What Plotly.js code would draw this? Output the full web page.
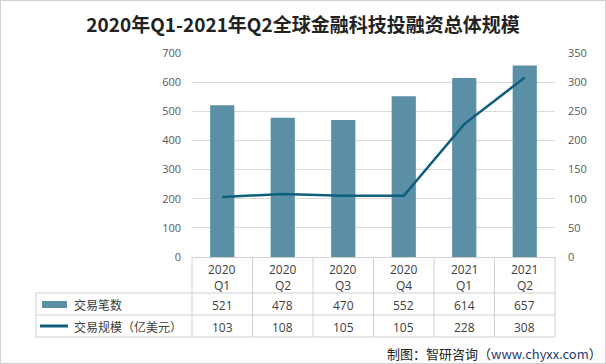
<!DOCTYPE html>
<html><head><meta charset="utf-8">
<script src="https://cdn.plot.ly/plotly-3.0.1.min.js"></script>
<style>body{margin:0;padding:0;background:#fff}#c{width:604px;height:362px;border:1px solid #d0d0d0}</style>
</head><body><div id="c"></div>
<script>
const categories = ["2020 Q1","2020 Q2","2020 Q3","2020 Q4","2021 Q1","2021 Q2"];
const yearLabels = ["2020","2020","2020","2020","2021","2021"];
const quarterLabels = ["Q1","Q2","Q3","Q4","Q1","Q2"];
const dealCount = [521,478,470,552,614,657];
const dealAmount = [103,108,105,105,228,308];
const seriesNames = ["交易笔数","交易规模（亿美元）"];

const W=604,H=362,L=191,R=554,T=52,B=256;
const px=x=>(x-L)/(R-L), py=y=>(B-y)/(B-T);
const fontF='"Noto Sans CJK SC","Noto Sans",sans-serif';
const numF='"Open Sans","Liberation Sans",sans-serif';
const grid='#d9d9d9';
const tbl='#d0d0d0';
const shapes=[], ann=[];
function seg(x0,y0,x1,y1,c,w){shapes.push({type:'line',xref:'paper',yref:'paper',layer:'above',x0:px(x0),y0:py(y0),x1:px(x1),y1:py(y1),line:{color:c,width:w}});}
function txt(x,y,t,f,xa){ann.push({xref:'paper',yref:'paper',x:px(x),y:py(y),xanchor:xa||'center',yanchor:'middle',text:t,showarrow:false,font:f});}
// table lines
[292,314,336].forEach(y=>seg(35,y,R,y,tbl,1));
seg(35,292,35,336,tbl,1);
const colW=(R-L)/categories.length;
for(let i=0;i<=categories.length;i++){seg(L+i*colW,B,L+i*colW,336,tbl,1);}
// header and values
const nf={family:numF,size:12,color:'#404040'};
categories.forEach((c,i)=>{
  const cx=L+(i+0.5)*colW;
  txt(cx,268,yearLabels[i],nf);
  txt(cx,284,quarterLabels[i],nf);
  txt(cx,304,String(dealCount[i]),nf);
  txt(cx,326,String(dealAmount[i]),nf);
});
// legend
shapes.push({type:'rect',xref:'paper',yref:'paper',x0:px(41),x1:px(66),y0:py(300),y1:py(307),fillcolor:'#5b8fa6',line:{width:0}});
seg(39,325,67,325,'#0e5f7d',3);
const lf={family:fontF,size:12,color:'#404040'};
txt(71,303,seriesNames[0],lf,'left');
txt(71,325,seriesNames[1],lf,'left');
// source
txt(603,352,'制图：智研咨询（<span style="color:#1f3a6e">www.chyxx.com</span>）',{family:fontF,size:13,color:'#222'},'right');

const data=[
 {type:'bar',x:categories,y:dealCount,name:seriesNames[0],marker:{color:'#5b8fa6'},yaxis:'y'},
 {type:'scatter',mode:'lines',x:categories,y:dealAmount,name:seriesNames[1],line:{color:'#0e5f7d',width:2.5},yaxis:'y2'}
];
const layout={
 width:W,height:H,margin:{l:L,r:W-R,t:T,b:H-B},
 paper_bgcolor:'#fff',plot_bgcolor:'#fff',showlegend:false,bargap:0.6,
 title:{text:'<b>2020年Q1-2021年Q2全球金融科技投融资总体规模</b>',x:0.5,xref:'container',xanchor:'center',y:1-24/H,yanchor:'middle',yref:'container',font:{family:fontF,size:19,color:'#222'}},
 xaxis:{type:'category',showticklabels:false,showgrid:false,showline:true,linecolor:tbl,ticks:''},
 yaxis:{range:[0,700],dtick:100,showgrid:true,gridcolor:grid,zeroline:false,showline:false,ticks:'',tickfont:{family:numF,size:11,color:'#595959'},ticklabelstandoff:10},
 yaxis2:{range:[0,350],dtick:50,overlaying:'y',side:'right',showgrid:false,zeroline:false,showline:false,ticks:'',tickfont:{family:numF,size:11,color:'#595959'},ticklabelstandoff:12},
 shapes:shapes,annotations:ann
};
Plotly.newPlot('c',data,layout,{displayModeBar:false,staticPlot:true});
</script></body></html>
